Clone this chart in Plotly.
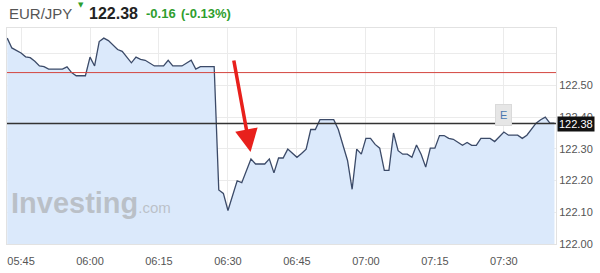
import plotly.graph_objects as go

DAY = "2015-01-23 "

times = ["05:42", "05:43", "05:45", "05:46", "05:47", "05:48", "05:49", "05:50", "05:51", "05:54",
         "05:55", "05:56", "05:57", "05:59", "06:00", "06:01", "06:02", "06:03", "06:04", "06:06",
         "06:07", "06:09", "06:10", "06:11", "06:12", "06:14", "06:16", "06:17", "06:18", "06:20",
         "06:22", "06:23", "06:24", "06:27", "06:28", "06:29", "06:30", "06:32", "06:33", "06:35",
         "06:36", "06:38", "06:39", "06:40", "06:41", "06:42", "06:43", "06:45", "06:46", "06:47",
         "06:48", "06:49", "06:50", "06:53", "06:54", "06:56", "06:57", "06:58", "06:59", "07:00",
         "07:01", "07:02", "07:03", "07:04", "07:05", "07:06", "07:07", "07:08", "07:09", "07:10",
         "07:11", "07:12", "07:13", "07:14", "07:15", "07:16", "07:17", "07:18", "07:19", "07:20",
         "07:21", "07:22", "07:23", "07:24", "07:25", "07:27", "07:28", "07:30", "07:31", "07:33",
         "07:34", "07:35", "07:37", "07:38", "07:39", "07:40", "07:41"]

prices = [122.650, 122.619, 122.603, 122.591, 122.588, 122.577, 122.562, 122.560, 122.552, 122.552,
          122.559, 122.541, 122.531, 122.531, 122.590, 122.562, 122.639, 122.650, 122.642, 122.614,
          122.608, 122.572, 122.590, 122.583, 122.580, 122.562, 122.562, 122.580, 122.562, 122.562,
          122.580, 122.552, 122.560, 122.560, 122.170, 122.159, 122.105, 122.199, 122.193, 122.268,
          122.252, 122.252, 122.268, 122.224, 122.271, 122.271, 122.299, 122.273, 122.285, 122.299,
          122.361, 122.361, 122.392, 122.392, 122.361, 122.263, 122.172, 122.299, 122.283, 122.333,
          122.333, 122.314, 122.302, 122.232, 122.232, 122.350, 122.294, 122.283, 122.283, 122.273,
          122.312, 122.283, 122.242, 122.302, 122.302, 122.342, 122.342, 122.333, 122.330, 122.320,
          122.311, 122.320, 122.311, 122.311, 122.333, 122.333, 122.323, 122.353, 122.343, 122.343,
          122.333, 122.343, 122.381, 122.392, 122.400, 122.381, 122.381]

x_ticks = ["05:45", "06:00", "06:15", "06:30", "06:45", "07:00", "07:15", "07:30"]
y_ticks = [122.0, 122.1, 122.2, 122.3, 122.4, 122.5, 122.6]
y_labels = ["122.00", "122.10", "122.20", "122.30", "122.40", "122.50", ""]

symbol = "EUR/JPY"
last_price = 122.38
change = "-0.16"
change_pct = "(-0.13%)"
prev_close = 122.541
event_time = "07:30"

FONT = "Liberation Sans, Arial, sans-serif"
GREEN = "#2e9e2e"

x = [DAY + t for t in times]

fig = go.Figure()
fig.add_trace(go.Scatter(
    x=x, y=prices, mode="lines",
    line=dict(color="#3b4a68", width=1.3),
    fill="tozeroy", fillcolor="#dbe9fb",
    hoverinfo="skip", showlegend=False,
))

# reference lines
fig.add_hline(y=prev_close, line=dict(color="#d4463f", width=1))
fig.add_hline(y=last_price, line=dict(color="#333333", width=1.6))

fig.update_layout(
    width=600, height=273,
    margin=dict(l=6, r=44, t=28, b=25),
    paper_bgcolor="white", plot_bgcolor="white",
    font=dict(family=FONT, size=11, color="#555555"),
    xaxis=dict(
        type="date",
        range=[DAY + "05:41:57", DAY + "07:41:20"],
        tickvals=[DAY + t for t in x_ticks], ticktext=x_ticks,
        showgrid=True, gridcolor="#ebebeb", gridwidth=1,
        showline=True, linecolor="#e2e2e2", mirror=True,
        zeroline=False, ticks="", ticklabelstandoff=7,
        tickfont=dict(size=11, color="#555555"),
    ),
    yaxis=dict(
        range=[121.999, 122.682], side="right",
        tickvals=y_ticks, ticktext=y_labels,
        showgrid=True, gridcolor="#ebebeb", gridwidth=1,
        showline=True, linecolor="#e2e2e2", mirror=True,
        zeroline=False, ticks="", tickfont=dict(size=11, color="#555555"),
    ),
)

ann = []
# header
ann.append(dict(xref="paper", yref="paper", x=0.0, y=1.065, xanchor="left", yanchor="middle",
                text=symbol, showarrow=False, font=dict(size=15, color="#555555", family=FONT)))
ann.append(dict(xref="paper", yref="paper", x=0.125, y=1.105, xanchor="left", yanchor="middle",
                text="▼", showarrow=False, font=dict(size=7, color=GREEN, family="DejaVu Sans")))
ann.append(dict(xref="paper", yref="paper", x=0.145, y=1.065, xanchor="left", yanchor="middle",
                text="<b>%.2f</b>" % last_price, showarrow=False, font=dict(size=16, color="#222222", family=FONT)))
ann.append(dict(xref="paper", yref="paper", x=0.249, y=1.065, xanchor="left", yanchor="middle",
                text="<b>%s</b>" % change, showarrow=False, font=dict(size=13, color=GREEN, family=FONT)))
ann.append(dict(xref="paper", yref="paper", x=0.313, y=1.065, xanchor="left", yanchor="middle",
                text="<b>%s</b>" % change_pct, showarrow=False, font=dict(size=13, color=GREEN, family=FONT)))
# last price box
ann.append(dict(xref="paper", yref="y", x=1.0, y=last_price, xanchor="left", yanchor="middle",
                text="%.2f" % last_price, showarrow=False, bgcolor="#111111",
                font=dict(size=11, color="white", family=FONT), borderpad=1, xshift=1))
# event marker
ann.append(dict(xref="x", yref="y", x=DAY + event_time, y=last_price, xanchor="center", yanchor="bottom",
                text="E", showarrow=False, bgcolor="#e6e6e6", bordercolor="#dadada", borderwidth=1,
                font=dict(size=11, color="#4a78b0", family=FONT), borderpad=4, yshift=-2))
# watermark
ann.append(dict(xref="paper", yref="paper", x=0.003, y=0.19, xanchor="left", yanchor="middle",
                text="<b>Investing</b><span style='font-size:15px'>.com</span>", showarrow=False,
                font=dict(size=29, color="rgba(165,165,165,0.6)", family=FONT)))
# red arrow
ann.append(dict(xref="paper", yref="paper", x=0.4436, y=0.426, ax=-17, ay=-93,
                axref="pixel", ayref="pixel", showarrow=True, arrowhead=2, arrowsize=1.3,
                arrowwidth=3.5, arrowcolor="#e8201c", text=""))
fig.update_layout(annotations=ann)

fig.write_html("out.html")
